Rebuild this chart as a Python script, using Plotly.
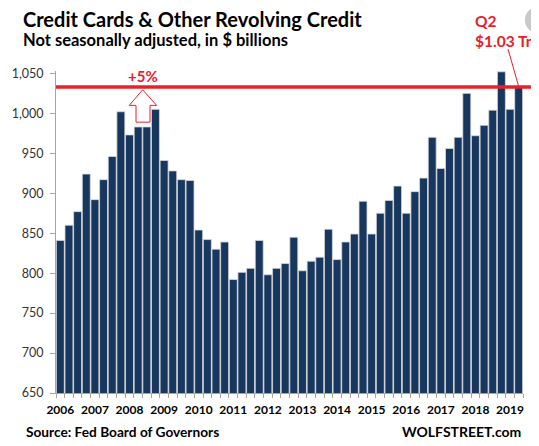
import plotly.graph_objects as go

# quarterly, 2006 Q1 .. 2019 Q2, $ billions
values = [841, 860, 877, 924, 892, 917, 946, 1002, 973, 983, 983, 1005,
          941, 928, 917, 916, 854, 842, 830, 839, 792, 801, 806, 841,
          798, 806, 812, 845, 803, 815, 820, 855, 817, 839, 849, 890,
          849, 875, 891, 909, 875, 902, 919, 970, 931, 956, 970, 1025,
          972, 985, 1004, 1052, 1005, 1033]
years = [str(y) for y in range(2006, 2020)]
quarters = list(range(len(values)))
latest = values[-1]
y_ticks = list(range(650, 1051, 50))

RED = "#e8202a"
NAVY = "#17375e"
FONT = "Lato"
y_lo, y_hi = 650, 1053

fig = go.Figure()
fig.add_trace(go.Bar(x=quarters, y=values, marker_color=NAVY,
                     marker_line=dict(color="#d9d9d9", width=0.8),
                     hoverinfo="y"))

def py(v):
    # value -> paper y
    return (v - y_lo) / (y_hi - y_lo)

# red reference line at latest value
fig.add_shape(type="line", xref="paper", yref="paper", x0=0, x1=1.017,
              y0=py(latest), y1=py(latest), line=dict(color=RED, width=3.5))
# pointer from label to last bar
fig.add_shape(type="line", xref="paper", yref="paper", x0=0.968, y0=1.068,
              x1=0.991, y1=py(latest), line=dict(color=RED, width=1))

# hollow up-arrow
fig.add_shape(type="path", xref="x", yref="y",
              path="M 8.75 989 L 8.75 1010 L 7.97 1010 L 9.52 1029.5 L 11.14 1010 L 10.37 1010 L 10.37 989 Z",
              fillcolor="white", line=dict(color=RED, width=1))

# screenshot frame bits
fig.add_shape(type="rect", xref="paper", yref="paper", x0=1.0257, x1=1.04,
              y0=-0.2, y1=1.25, fillcolor="#1c1c1c", line_width=0, layer="below")
fig.add_shape(type="circle", xref="paper", yref="paper", x0=1.004, x1=1.06,
              y0=1.118, y1=1.199, fillcolor="#c9c9c9", line_width=0, layer="below")

fig.add_annotation(text="+5%", x=9.6, y=1047, xref="x", yref="y", showarrow=False,
                   font=dict(family=FONT, size=15, color=RED, weight="bold"))
fig.add_annotation(text="Q2", x=0.892, y=1.155, xref="paper", yref="paper",
                   xanchor="left", yanchor="middle", showarrow=False,
                   font=dict(family=FONT, size=15.5, color=RED, weight="bold"))
fig.add_annotation(text="$1.03 Tn", x=0.892, y=1.093, xref="paper", yref="paper",
                   xanchor="left", yanchor="middle", showarrow=False,
                   font=dict(family=FONT, size=15.5, color=RED, weight="bold"))

fig.add_annotation(text="Credit Cards & Other Revolving Credit", x=-0.075, y=1.161,
                   xref="paper", yref="paper", xanchor="left", yanchor="middle", showarrow=False,
                   font=dict(family=FONT, size=20, color="black", weight="bold"))
fig.add_annotation(text="Not seasonally adjusted, in $ billions", x=-0.075, y=1.096,
                   xref="paper", yref="paper", xanchor="left", yanchor="middle", showarrow=False,
                   font=dict(family=FONT, size=16.5, color="black", weight="bold"))
fig.add_annotation(text="Source: Fed Board of Governors", x=-0.069, y=-0.12,
                   xref="paper", yref="paper", xanchor="left", yanchor="middle", showarrow=False,
                   font=dict(family=FONT, size=13.7, color="black", weight="bold"))
fig.add_annotation(text="WOLFSTREET.com", x=1.0, y=-0.12,
                   xref="paper", yref="paper", xanchor="right", yanchor="middle", showarrow=False,
                   font=dict(family=FONT, size=14, color="black", weight="bold"))

# page body adds an 8px offset, so the figure is 8px smaller than the window
fig.update_layout(
    width=531, height=438,
    margin=dict(l=48, r=16, t=63, b=53),
    paper_bgcolor="white", plot_bgcolor="white",
    bargap=0.08, showlegend=False,
    font=dict(family=FONT, color="#333333"),
    xaxis=dict(range=[-0.5, len(values) - 0.5], tickvals=quarters[::4], ticktext=years,
               ticks="", showgrid=False, showline=True, linecolor="#a6a6a6", linewidth=1,
               automargin=False,
               tickfont=dict(size=12, color="black", weight="bold"), ticklabelstandoff=6,
               minor=dict(tick0=-0.5, dtick=1, ticks="outside", ticklen=4,
                          tickcolor="#a6a6a6", showgrid=False)),
    yaxis=dict(range=[y_lo, y_hi], tickvals=y_ticks, tickformat=",d", showgrid=False,
               zeroline=False, showline=True, linecolor="#a6a6a6", linewidth=1,
               automargin=False,
               ticks="outside", ticklen=5, tickcolor="#a6a6a6", ticklabelstandoff=4,
               tickfont=dict(size=12.5, color="#333333")),
)

fig.write_html("out.html")
